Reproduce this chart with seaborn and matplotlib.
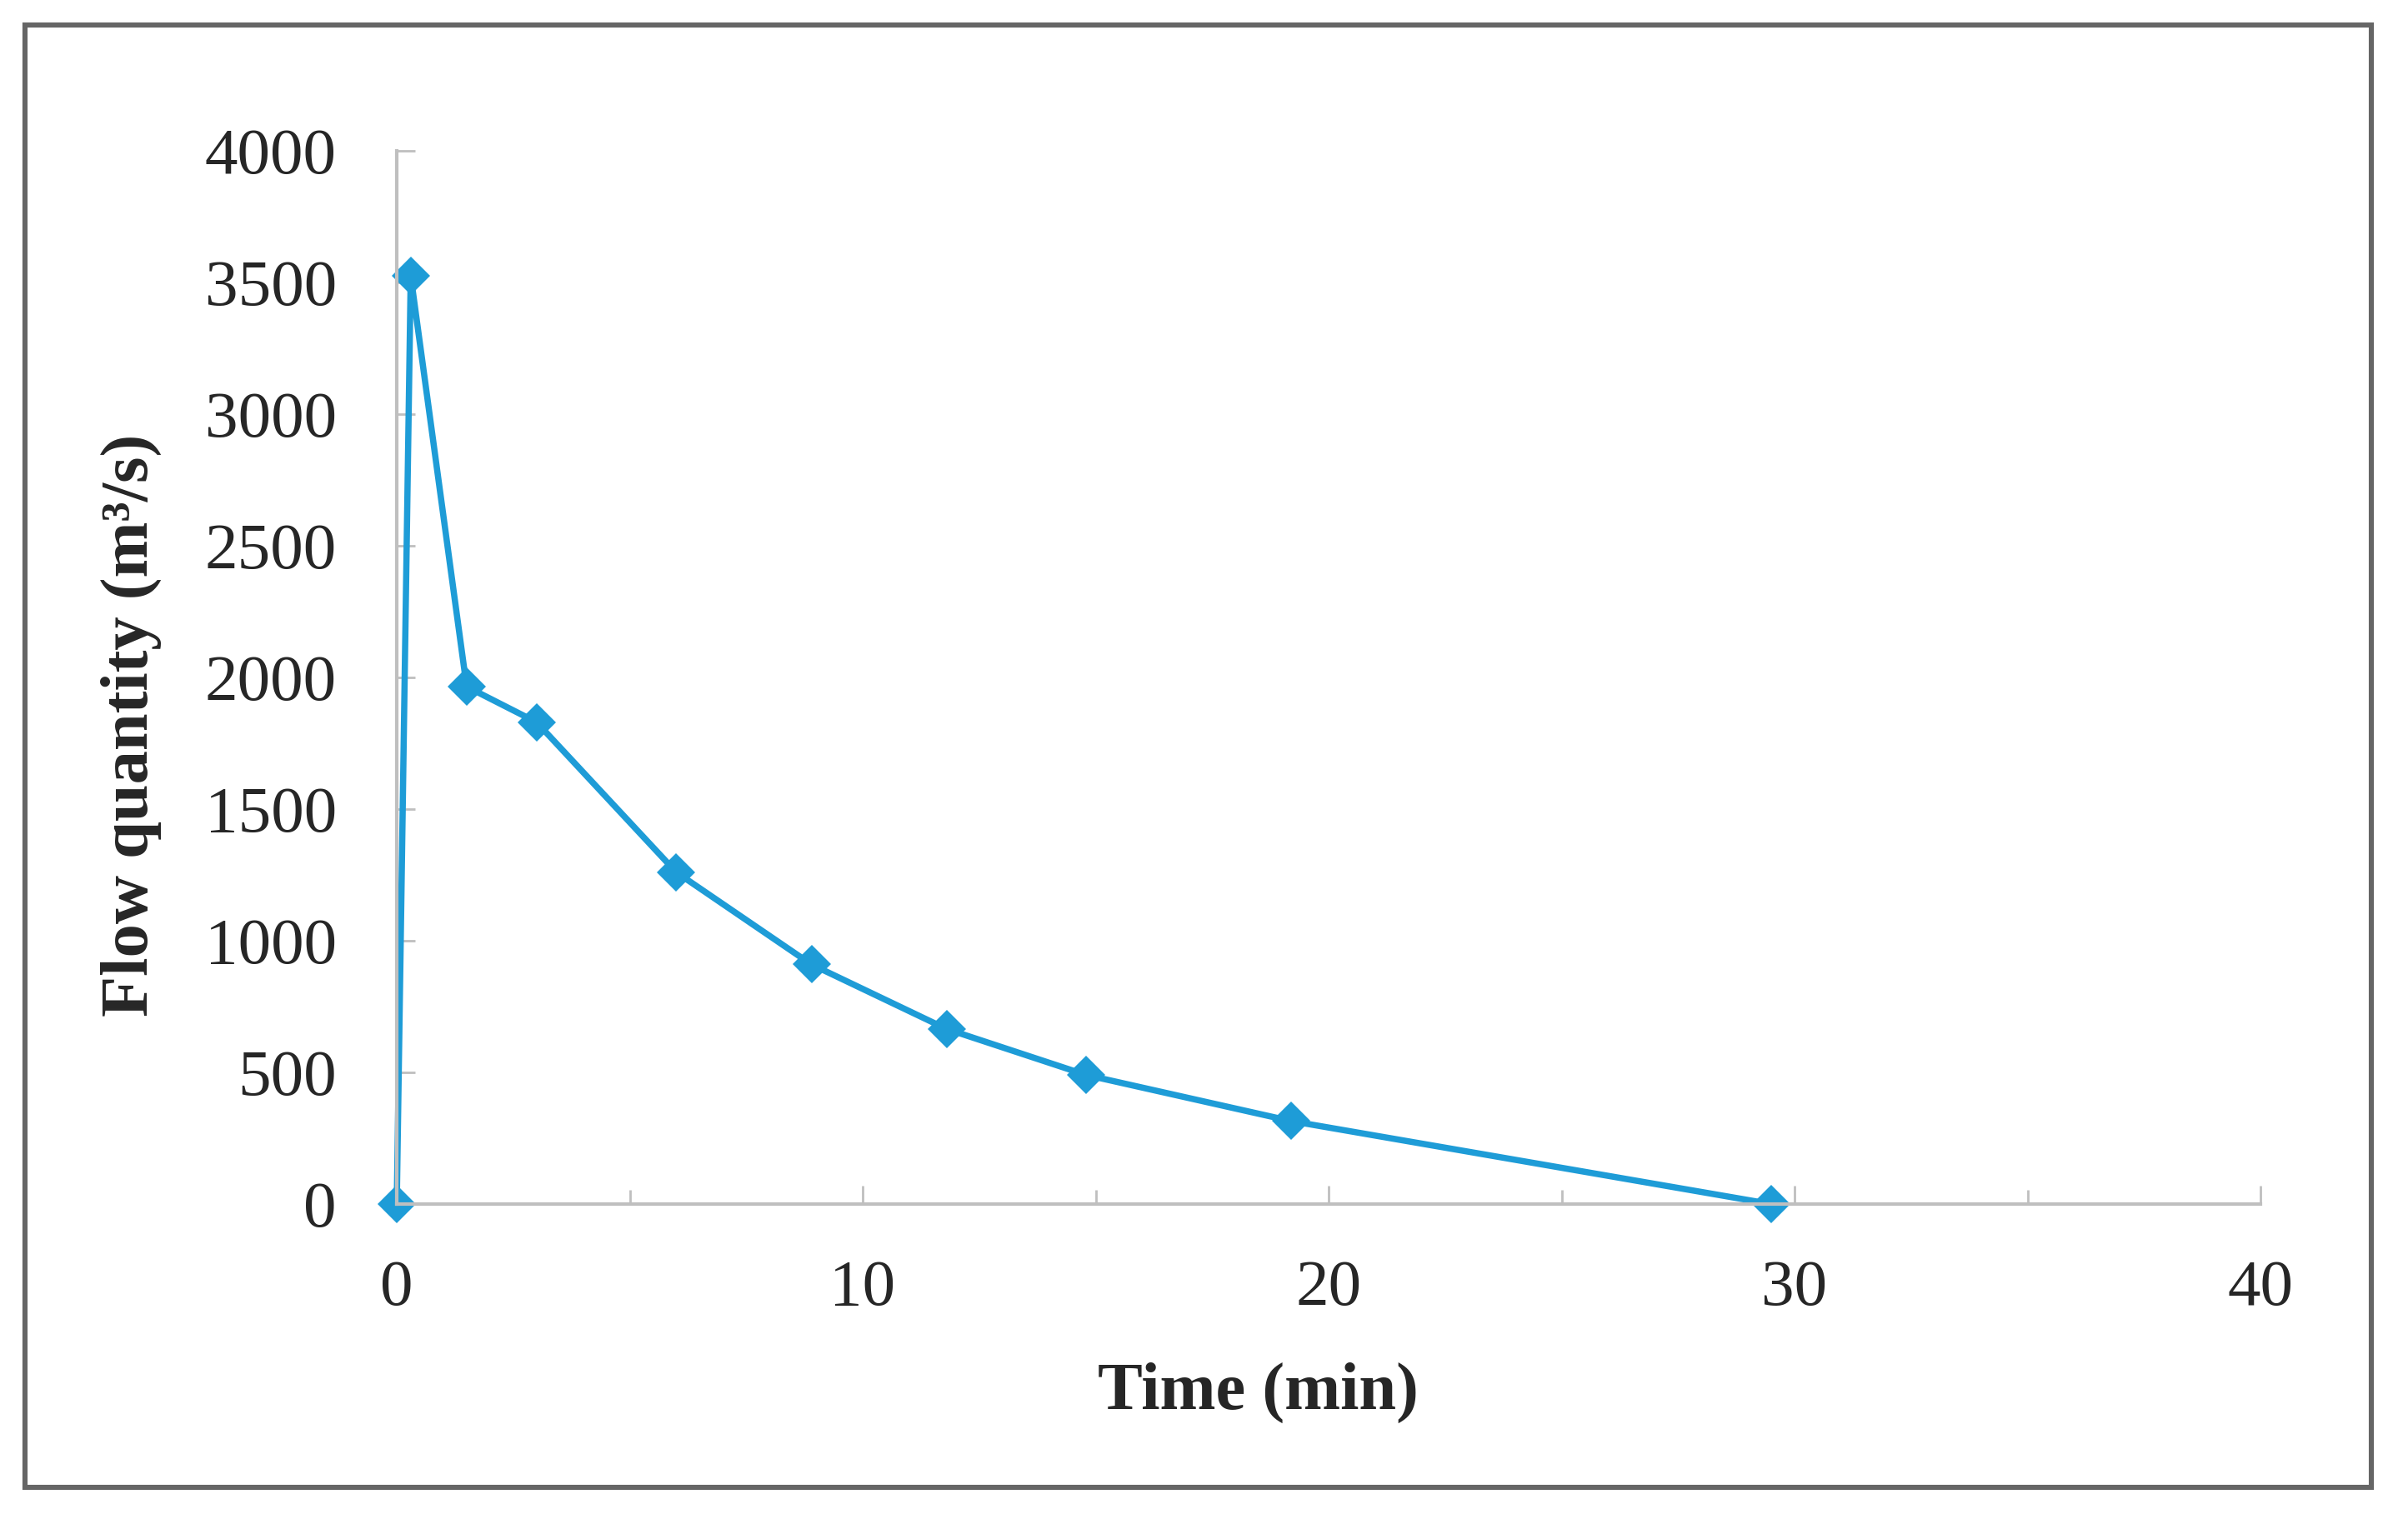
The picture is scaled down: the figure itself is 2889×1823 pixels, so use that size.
import numpy as np
import pandas as pd
import matplotlib
matplotlib.use("Agg")
import matplotlib.pyplot as plt
from matplotlib.patches import Rectangle
from matplotlib.ticker import MultipleLocator
import seaborn as sns

# values
time_min = [0, 0.3, 1.5, 3.0, 6.0, 8.9, 11.8, 14.8, 19.2, 29.5]
flow_m3s = [0, 3525, 1965, 1830, 1260, 910, 665, 490, 315, 0]

x_ticks = [0, 10, 20, 30, 40]
y_ticks = [0, 500, 1000, 1500, 2000, 2500, 3000, 3500, 4000]

LINE_COLOR = "#1E9CD7"
AXIS_COLOR = "#BFBFBF"
TEXT_COLOR = "#262626"
FRAME_COLOR = "#666666"

sns.set_style("white")
plt.rcParams["font.family"] = ["Liberation Serif", "DejaVu Serif"]

W, H, DPI = 2889, 1823, 200
fig = plt.figure(figsize=(W / DPI, H / DPI), dpi=DPI)
ax = fig.add_axes([476 / W, 1 - 1445 / H, 2236 / W, 1264 / H])

df = pd.DataFrame({"time": time_min, "flow": flow_m3s})
sns.lineplot(data=df, x="time", y="flow", ax=ax, color=LINE_COLOR,
             linewidth=2.7, marker="D", markersize=11.5, markeredgewidth=0,
             clip_on=False, sort=False)

ax.set_xlim(0, 40)
ax.set_ylim(0, 4000)
ax.set_xticks(x_ticks)
ax.set_yticks(y_ticks)
ax.xaxis.set_minor_locator(MultipleLocator(5))

for side in ["top", "right"]:
    ax.spines[side].set_visible(False)
for side in ["left", "bottom"]:
    ax.spines[side].set_color(AXIS_COLOR)
    ax.spines[side].set_linewidth(1.5)

ax.tick_params(axis="both", which="major", direction="in", length=8, width=1.0,
               color=AXIS_COLOR, labelsize=28.5, labelcolor=TEXT_COLOR,
               bottom=True, left=True)
ax.tick_params(axis="x", which="minor", direction="in", length=6, width=1.0,
               color=AXIS_COLOR, bottom=True)
ax.tick_params(axis="y", pad=26)
ax.tick_params(axis="x", pad=24)

ax.set_xlabel("Time (min)", fontsize=29, fontweight="bold", color=TEXT_COLOR)
ax.set_ylabel("Flow quantity (m³/s)", fontsize=29, fontweight="bold", color=TEXT_COLOR)
ax.xaxis.set_label_coords(0.462, -0.150)
ax.yaxis.label.set_va("center")
ax.yaxis.set_label_coords(-0.1427, 0.455)

# outer frame around the whole chart
fig.patches.append(Rectangle((30 / W, 1 - 1785 / H), 2815 / W, 1755 / H,
                             transform=fig.transFigure, fill=False,
                             edgecolor=FRAME_COLOR, linewidth=2.2))

fig.savefig("out.png", dpi=DPI)
